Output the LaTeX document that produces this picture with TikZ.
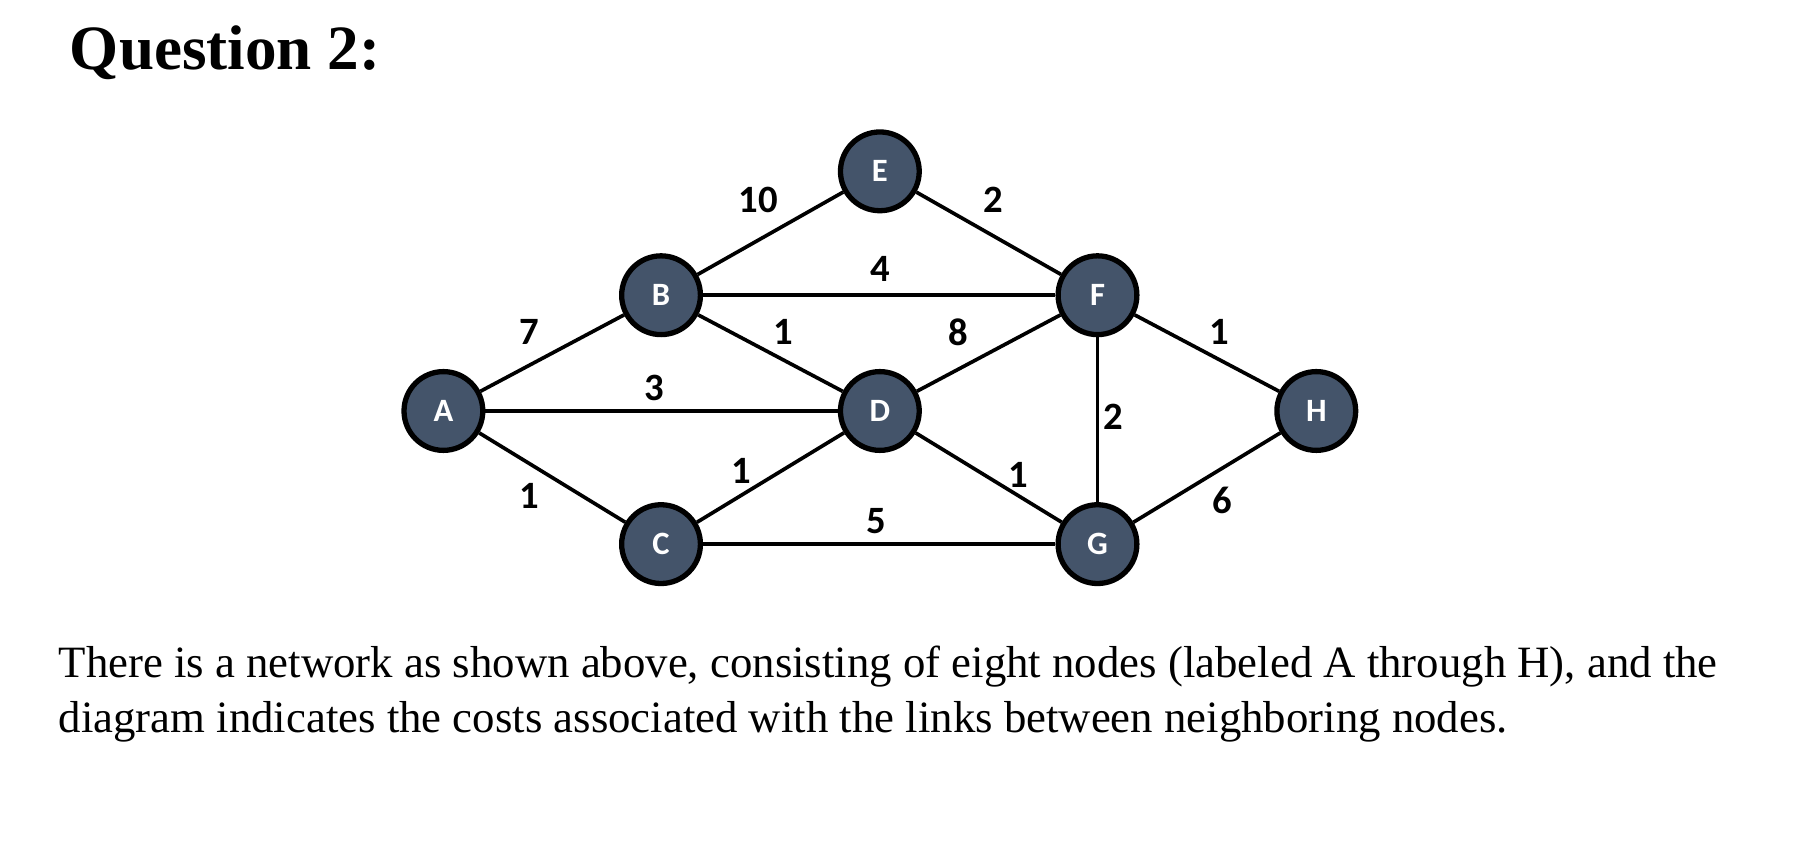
\documentclass[tikz,border=0pt]{standalone}
\usepackage{fontspec}
\setmainfont{Liberation Serif}
\newfontfamily\labfont{Carlito}
\definecolor{nodefill}{HTML}{44546A}
\begin{document}
\begin{tikzpicture}[x=0.01cm,y=-0.01cm,
  vtx/.style={circle,draw=black,line width=1.3pt,fill=nodefill,minimum size=0.68cm,inner sep=0pt,text=white,font=\labfont\bfseries\fontsize{8}{9}\selectfont},
  edge/.style={line width=0.9pt},
  lab/.style={font=\labfont\bfseries\fontsize{9.5}{10}\selectfont}]
\useasboundingbox (0,0) rectangle (1560,736);
\node[anchor=base west,font=\bfseries\fontsize{15.5}{18}\selectfont] (title) at (48,60) {Question 2:};
\node (A) [vtx] at (383,355) {A};
\node (B) [vtx] at (571,255) {B};
\node (C) [vtx] at (571,470) {C};
\node (D) [vtx] at (760,355) {D};
\node (E) [vtx] at (760,148) {E};
\node (F) [vtx] at (948,255) {F};
\node (G) [vtx] at (948,470) {G};
\node (H) [vtx] at (1137,355) {H};
\begin{scope}[on background layer/.style={}]
\draw[edge] (A) -- (B); \draw[edge] (A) -- (D); \draw[edge] (A) -- (C);
\draw[edge] (B) -- (E); \draw[edge] (B) -- (F); \draw[edge] (B) -- (D);
\draw[edge] (C) -- (D); \draw[edge] (C) -- (G);
\draw[edge] (E) -- (F); \draw[edge] (D) -- (F); \draw[edge] (D) -- (G);
\draw[edge] (F) -- (G); \draw[edge] (F) -- (H); \draw[edge] (G) -- (H);
\end{scope}
\node[lab] (l1) at (655,173) {10};
\node[lab] (l2) at (858,173) {2};
\node[lab] (l3) at (760,232) {4};
\node[lab] (l4) at (457,287) {7};
\node[lab] (l5) at (677,287) {1};
\node[lab] (l6) at (828,287) {8};
\node[lab] (l7) at (1053,287) {1};
\node[lab] (l8) at (565,335) {3};
\node[lab] (l9) at (962,360) {2};
\node[lab] (l10) at (457,428) {1};
\node[lab] (l11) at (640,407) {1};
\node[lab] (l12) at (757,450) {5};
\node[lab] (l13) at (880,410) {1};
\node[lab] (l14) at (1056,432) {6};
\node[anchor=base west,inner sep=0pt,font=\fontsize{11}{13}\selectfont] (t1) at (50,585) {There is a network as shown above, consisting of eight nodes (labeled A through H), and the};
\node[anchor=base west,inner sep=0pt,font=\fontsize{11}{13}\selectfont] (t2) at (50,633) {diagram indicates the costs associated with the links between neighboring nodes.};
\end{tikzpicture}
\end{document}
